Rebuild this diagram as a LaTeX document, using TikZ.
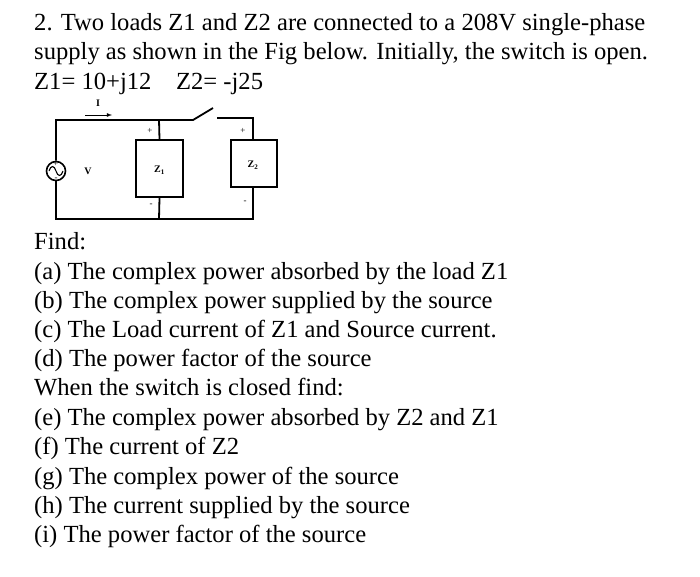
\documentclass[tikz,border=0pt]{standalone}
\usepackage{fontspec}
\setmainfont{Liberation Serif}
\begin{document}
\begin{tikzpicture}[x=1pt,y=-1pt,
  txt/.style={anchor=base west,inner sep=0,font=\fontsize{24.6}{28}\selectfont},
  wire/.style={line width=1.8pt},
  small/.style={font=\fontsize{10}{11}\selectfont\bfseries,inner sep=0},
  tiny/.style={font=\fontsize{9}{10}\selectfont,inner sep=0}]
\useasboundingbox (0,0) rectangle (700,576);
\node[txt] (t1) at (34,30) {2. Two loads Z1 and Z2 are connected to a 208V single-phase};
\node[txt] (t2) at (34,59) {supply as shown in the Fig below. Initially, the switch is open.};
\node[txt] (t3) at (34,89) {Z1= 10+j12\quad Z2= -j25};
\foreach \y/\s [count=\i] in {249/Find:,279/(a) The complex power absorbed by the load Z1,308/(b) The complex power supplied by the source,337/(c) The Load current of Z1 and Source current.,366/(d) The power factor of the source,395/When the switch is closed find:,425/(e) The complex power absorbed by Z2 and Z1,454/(f) The current of Z2,484/(g) The complex power of the source,513/(h) The current supplied by the source,542/(i) The power factor of the source}
  \node[txt] (f\i) at (34,\y) {\s};
% circuit
\coordinate (tl) at (56,120);
\coordinate (bl) at (56,219);
\node[draw,circle,line width=1.6pt,minimum size=19,inner sep=0] (src) at (56,171) {};
\draw[line width=1.1pt] (49,171) .. controls (51,165) and (54,165) .. (56,171) .. controls (58,177) and (61,177) .. (63,171);
\node[tiny] (sp) at (56,164) {+};
\node[tiny] (sm) at (56,179) {-};
\node[small] (v) at (88,171) {V};
\node[small] (i) at (98,103) {I};
\draw[-latex,line width=0.8pt] (85,115) -- (112,115);
\node[draw,line width=1.6pt,minimum width=47,minimum height=57,inner sep=0] (z1) at (159.5,168.5) {};
\node[small] (z1l) at (159.5,170) {Z\textsubscript{1}};
\node[draw,line width=1.6pt,minimum width=46,minimum height=47,inner sep=0] (z2) at (254,163.5) {};
\node[small] (z2l) at (253,165) {Z\textsubscript{2}};
\coordinate (sw1) at (193,120);
\coordinate (sw2) at (213,108);
\coordinate (sw3) at (217,118);
\coordinate (z2t) at (253,118);
\coordinate (br) at (253,219);
\draw[wire] (src.north) -- (tl) -- (sw1) -- (sw2);
\draw[wire] (sw3) -- (z2t) -- (z2.north -| z2t);
\draw[wire] (src.south) -- (bl) -- (br) -- (z2.south -| br);
\draw[wire] (159,120) -- (z1.north);
\draw[wire] (z1.south) -- (159,219);
\node[tiny] (p1) at (150,131) {+};
\node[tiny] (m1) at (151,205) {-};
\node[tiny] (p2) at (243,131) {+};
\node[tiny] (m2) at (245,202) {-};
\end{tikzpicture}
\end{document}
